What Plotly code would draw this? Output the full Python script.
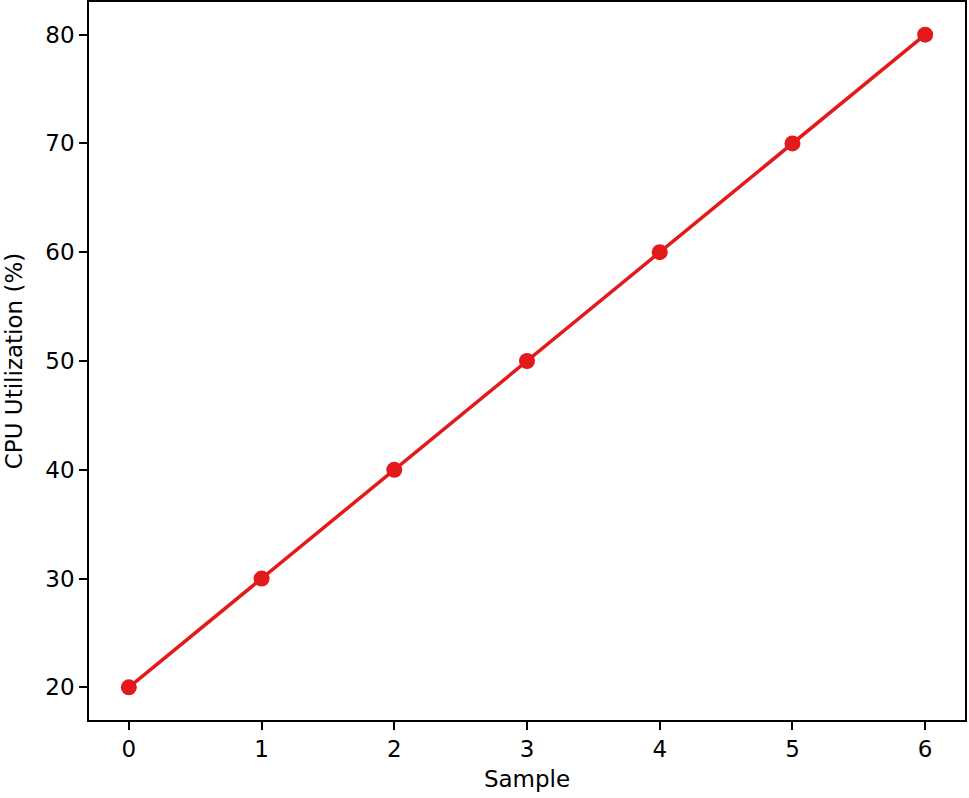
import plotly.graph_objects as go

# Data
samples = [0, 1, 2, 3, 4, 5, 6]
cpu_util = [20, 30, 40, 50, 60, 70, 80]
y_ticks = [20, 30, 40, 50, 60, 70, 80]

red = "#e31a1c"
font = dict(family="DejaVu Sans", size=23, color="black")

fig = go.Figure()
fig.add_trace(go.Scatter(x=samples, y=cpu_util, mode="lines+markers",
                         line=dict(color=red, width=3.5),
                         marker=dict(color=red, size=16)))

axis_style = dict(showline=True, linecolor="black", linewidth=1.5, mirror=True,
                  ticks="outside", ticklen=8, tickwidth=1.5, tickcolor="black",
                  showgrid=False, zeroline=False, tickfont=font, automargin=False)

fig.update_xaxes(range=[-0.3, 6.3], tickvals=samples,
                 title=dict(text="Sample", font=font, standoff=10), **axis_style)
fig.update_yaxes(range=[17, 83], tickvals=y_ticks,
                 title=dict(text="CPU Utilization (%)", font=font, standoff=16), **axis_style)

fig.update_layout(width=969, height=798, showlegend=False,
                  plot_bgcolor="white", paper_bgcolor="white",
                  margin=dict(l=89, r=4, t=2, b=78), font=font)

# Remove default page margin so the figure fills the window exactly
fig.write_html("out.html", config={"displayModeBar": False},
               post_script="document.body.style.margin='0';")
